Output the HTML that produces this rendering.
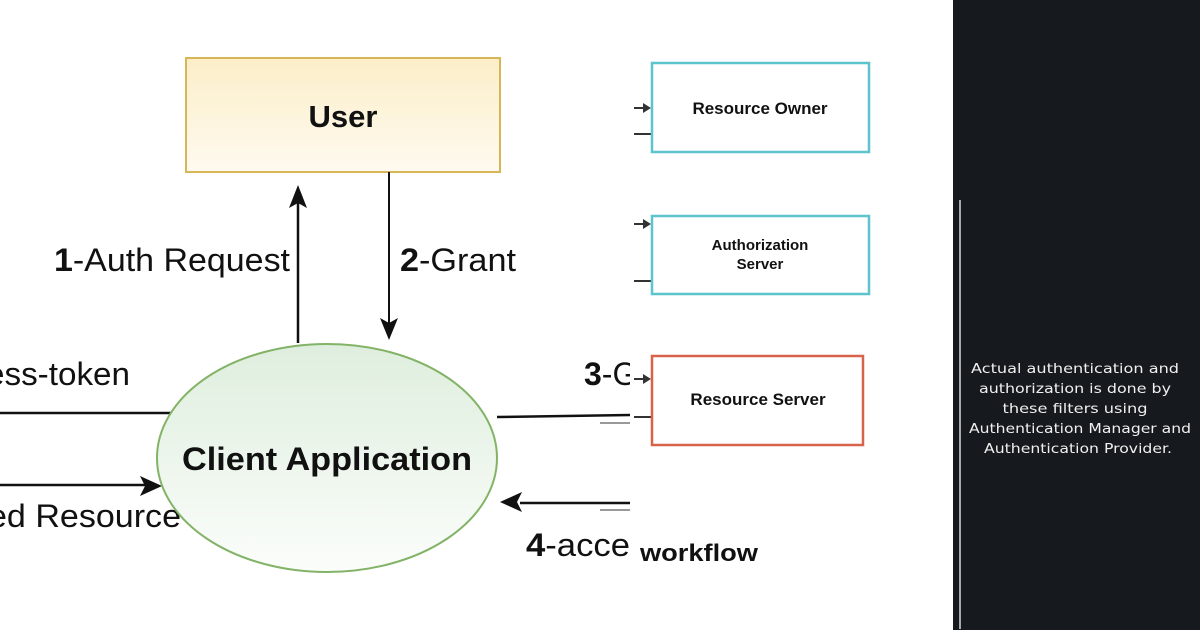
<!DOCTYPE html>
<html><head><meta charset="utf-8"><style>
html,body{margin:0;padding:0;width:1200px;height:630px;overflow:hidden;background:#fff}
text{font-family:"Liberation Sans",Arial,sans-serif}
.big{font-size:32px;fill:#111}
.hw{font-family:"DejaVu Sans",sans-serif;font-size:13.5px;fill:#f0f0f0}
</style></head><body>
<svg width="1200" height="630" viewBox="0 0 1200 630" xmlns="http://www.w3.org/2000/svg">
<defs>
<linearGradient id="ug" x1="0" y1="0" x2="0" y2="1"><stop offset="0" stop-color="#fbeec8"/><stop offset="1" stop-color="#fffaf0"/></linearGradient>
<linearGradient id="eg" x1="0" y1="0" x2="0" y2="1"><stop offset="0" stop-color="#deeedd"/><stop offset="1" stop-color="#fbfdfb"/></linearGradient>
</defs>
<rect x="0" y="0" width="953" height="630" fill="#fff"/>
<rect x="186" y="58" width="314" height="114" fill="url(#ug)" stroke="#d6b656" stroke-width="2"/>
<text x="343" y="127" font-weight="bold" font-size="31" text-anchor="middle" fill="#111">User</text>
<line x1="298" y1="343" x2="298" y2="200" stroke="#111" stroke-width="2.5"/>
<polygon points="298,185 289,208 298,203 307,208" fill="#111"/>
<line x1="389" y1="172" x2="389" y2="325" stroke="#111" stroke-width="2"/>
<polygon points="389,340 380,318 389,323 398,318" fill="#111"/>
<text x="54" y="271" class="big" textLength="236" lengthAdjust="spacingAndGlyphs"><tspan font-weight="bold">1</tspan>-Auth Request</text>
<text x="400" y="271" class="big" textLength="116" lengthAdjust="spacingAndGlyphs"><tspan font-weight="bold">2</tspan>-Grant</text>
<line x1="0" y1="413" x2="172" y2="413" stroke="#111" stroke-width="2.5"/>
<text x="-14" y="385" class="big" textLength="144" lengthAdjust="spacingAndGlyphs">ess-token</text>
<line x1="0" y1="485" x2="145" y2="485" stroke="#111" stroke-width="2.5"/>
<polygon points="162,486 140,476 145,486 140,496" fill="#111"/>
<text x="-12" y="527" class="big" textLength="193" lengthAdjust="spacingAndGlyphs">ed Resource</text>
<ellipse cx="327" cy="458" rx="170" ry="114" fill="url(#eg)" stroke="#82b366" stroke-width="2"/>
<text x="327" y="470" font-weight="bold" font-size="32" text-anchor="middle" fill="#111" textLength="290" lengthAdjust="spacingAndGlyphs">Client Application</text>
<line x1="497" y1="417" x2="630" y2="415" stroke="#111" stroke-width="2.5"/>
<line x1="600" y1="423" x2="630" y2="423" stroke="#999" stroke-width="2"/>
<text x="584" y="385" class="big"><tspan font-weight="bold">3</tspan>-G</text>
<line x1="520" y1="503" x2="630" y2="503" stroke="#111" stroke-width="2.5"/>
<line x1="600" y1="510" x2="630" y2="510" stroke="#999" stroke-width="2"/>
<polygon points="500,502 522,492 517,502 522,512" fill="#111"/>
<text x="526" y="556" class="big" textLength="104" lengthAdjust="spacingAndGlyphs"><tspan font-weight="bold">4</tspan>-acce</text>
<rect x="630" y="0" width="323" height="630" fill="#fff"/>
<text x="640" y="561" font-weight="bold" font-size="24" fill="#111" textLength="118" lengthAdjust="spacingAndGlyphs">workflow</text>
<g stroke="#333" stroke-width="2">
<line x1="634" y1="108" x2="645" y2="108"/><line x1="634" y1="134" x2="651" y2="134"/>
<line x1="634" y1="224" x2="645" y2="224"/><line x1="634" y1="281" x2="651" y2="281"/>
<line x1="634" y1="379" x2="645" y2="379"/><line x1="634" y1="417" x2="651" y2="417"/>
</g>
<g fill="#333"><polygon points="651,108 643,103 643,113"/><polygon points="651,224 643,219 643,229"/><polygon points="651,379 643,374 643,384"/></g>
<rect x="652" y="63" width="217" height="89" fill="#fff" stroke="#5bc4cc" stroke-width="2.5"/>
<text x="760" y="114" font-weight="bold" font-size="17" text-anchor="middle" fill="#111">Resource Owner</text>
<rect x="652" y="216" width="217" height="78" fill="#fff" stroke="#5bc4cc" stroke-width="2.5"/>
<text x="760" y="250" font-weight="bold" font-size="15" text-anchor="middle" fill="#111">Authorization</text>
<text x="760" y="269" font-weight="bold" font-size="15" text-anchor="middle" fill="#111">Server</text>
<rect x="652" y="356" width="211" height="89" fill="#fff" stroke="#d9634a" stroke-width="2.5"/>
<text x="758" y="405" font-weight="bold" font-size="17" text-anchor="middle" fill="#111">Resource Server</text>
<rect x="953" y="0" width="247" height="630" fill="#16191d"/>
<line x1="960" y1="200" x2="960" y2="629" stroke="#a8aaad" stroke-width="2"/>
<g class="hw" text-anchor="middle">
<text class="hw" x="1075" y="373" textLength="208" lengthAdjust="spacingAndGlyphs">Actual authentication and</text>
<text class="hw" x="1075" y="393" textLength="192" lengthAdjust="spacingAndGlyphs">authorization is done by</text>
<text class="hw" x="1075" y="413" textLength="145" lengthAdjust="spacingAndGlyphs">these filters using</text>
<text class="hw" x="1080" y="433" textLength="222" lengthAdjust="spacingAndGlyphs">Authentication Manager and</text>
<text class="hw" x="1078" y="453" textLength="188" lengthAdjust="spacingAndGlyphs">Authentication Provider.</text>
</g>
</svg>
</body></html>
